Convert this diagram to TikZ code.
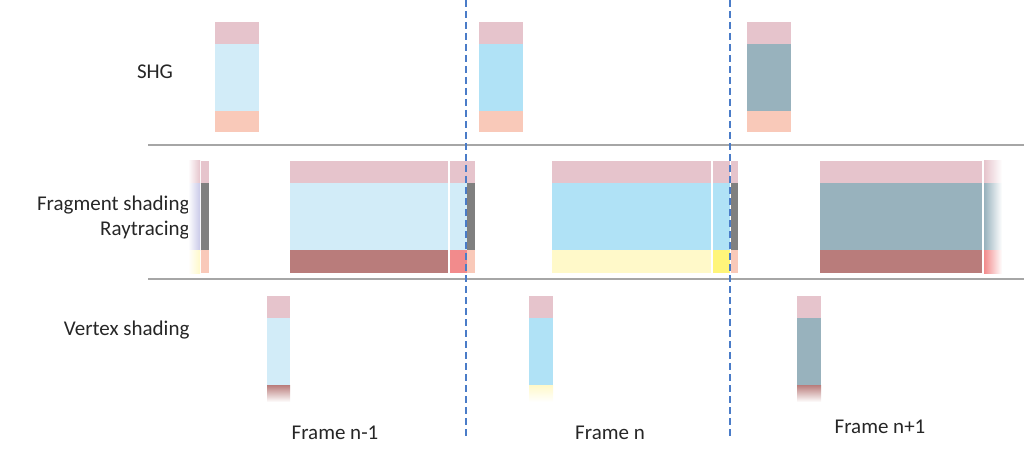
\documentclass[tikz,border=0pt]{standalone}
\usepackage{fontspec}
\setmainfont{Carlito}
\usetikzlibrary{positioning}

\definecolor{toppink}{HTML}{E6C4CC}
\definecolor{paleblue}{HTML}{D2ECF8}
\definecolor{midblue}{HTML}{B0E2F6}
\definecolor{slateblue}{HTML}{98B2BD}
\definecolor{salmon}{HTML}{F9C9B9}
\definecolor{darkred}{HTML}{B97C7B}
\definecolor{brightred}{HTML}{F28B8C}
\definecolor{paleyellow}{HTML}{FFF9C9}
\definecolor{brightyellow}{HTML}{FFF57A}
\definecolor{colgray}{HTML}{808080}
\definecolor{sepgray}{HTML}{A6A6A6}
\definecolor{dashblue}{HTML}{4A7CC8}

\begin{document}
\begin{tikzpicture}[x=1pt,y=-1pt]

        % styles
        \tikzstyle{rowlabel} = [font=\fontsize{21}{25}\selectfont, text=black!85, align=right]
        \tikzstyle{framelabel} = [font=\fontsize{21}{25}\selectfont, text=black!85]
        \tikzstyle{separator} = [draw=sepgray, line width=1.3pt]
        \tikzstyle{framesplit} = [draw=dashblue, line width=1.1pt, dash pattern=on 7pt off 4pt]

        \useasboundingbox (0,0) rectangle (1024,457);

        % row labels
        \node (shg) [rowlabel] at (155,72) {SHG};
        \node (frag) [rowlabel, anchor=east] at (193,218) {Fragment shading\\Raytracing};
        \node (vert) [rowlabel, anchor=east] at (193,330) {Vertex shading};

        % SHG row
        \fill[toppink] (215,22) rectangle (259,44);
        \fill[paleblue] (215,44) rectangle (259,111);
        \fill[salmon] (215,111) rectangle (259,132);
        \fill[toppink] (479,22) rectangle (523,44);
        \fill[midblue] (479,44) rectangle (523,111);
        \fill[salmon] (479,111) rectangle (523,132);
        \fill[toppink] (747,22) rectangle (791,44);
        \fill[slateblue] (747,44) rectangle (791,111);
        \fill[salmon] (747,111) rectangle (791,132);

        % fragment shading / raytracing row
        \shade[left color=white, right color=toppink] (188,161) rectangle (200,183);
        \shade[left color=white, right color=colgray!60!blue!30] (188,183) rectangle (200,250);
        \shade[left color=white, right color=paleyellow] (188,250) rectangle (200,273);
        \fill[toppink] (201,161) rectangle (209,183);
        \fill[colgray] (201,183) rectangle (209,250);
        \fill[salmon] (201,250) rectangle (209,273);

        \fill[toppink] (290,161) rectangle (448,183);
        \fill[paleblue] (290,183) rectangle (448,250);
        \fill[darkred] (290,250) rectangle (448,273);
        \fill[toppink] (449.5,161) rectangle (467,183);
        \fill[paleblue] (449.5,183) rectangle (467,250);
        \fill[brightred] (449.5,250) rectangle (467,273);
        \fill[toppink] (467,161) rectangle (475,183);
        \fill[colgray] (467,183) rectangle (475,250);
        \fill[salmon] (467,250) rectangle (475,273);

        \fill[toppink] (552,161) rectangle (711,183);
        \fill[midblue] (552,183) rectangle (711,250);
        \fill[paleyellow] (552,250) rectangle (711,273);
        \fill[toppink] (712.5,161) rectangle (730,183);
        \fill[midblue] (712.5,183) rectangle (730,250);
        \fill[brightyellow] (712.5,250) rectangle (730,273);
        \fill[toppink] (731,161) rectangle (738,183);
        \fill[colgray] (731,183) rectangle (738,250);
        \fill[salmon] (731,250) rectangle (738,273);

        \fill[toppink] (820,161) rectangle (982,183);
        \fill[slateblue] (820,183) rectangle (982,250);
        \fill[darkred] (820,250) rectangle (982,273);
        \shade[left color=toppink, right color=white] (984,161) rectangle (1002,183);
        \shade[left color=slateblue, right color=white] (984,183) rectangle (1002,250);
        \shade[left color=brightred, right color=white] (984,250) rectangle (1002,273);

        % vertex shading row
        \fill[toppink] (267,296) rectangle (290,318);
        \fill[paleblue] (267,318) rectangle (290,385);
        \shade[top color=darkred, bottom color=white] (267,385) rectangle (290,402);
        \fill[toppink] (529,296) rectangle (553,318);
        \fill[midblue] (529,318) rectangle (553,385);
        \shade[top color=paleyellow, bottom color=white] (529,385) rectangle (553,402);
        \fill[toppink] (797,296) rectangle (821,318);
        \fill[slateblue] (797,318) rectangle (821,385);
        \shade[top color=darkred, bottom color=white] (797,385) rectangle (821,402);

        % separators
        \draw[separator] (148,145) -- (1024,145);
        \draw[separator] (148,279) -- (1024,279);

        % frame boundaries
        \draw[framesplit] (466,0) -- (466,436);
        \draw[framesplit] (730,0) -- (730,436);

        % frame labels
        \node (fprev) [framelabel] at (335,433) {Frame n-1};
        \node (fcur) [framelabel] at (610,433) {Frame n};
        \node (fnext) [framelabel] at (880,427) {Frame n+1};

\end{tikzpicture}
\end{document}
